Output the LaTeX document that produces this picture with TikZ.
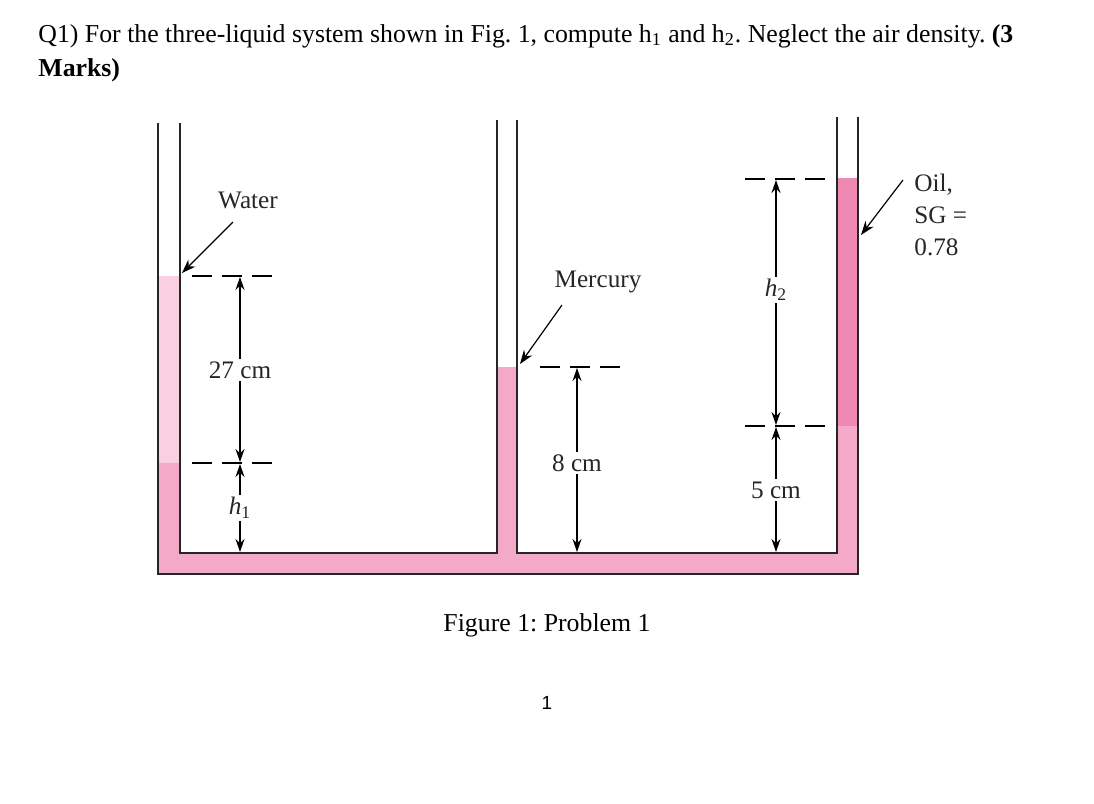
\documentclass[tikz,border=0pt]{standalone}
\usepackage{fontspec}
\setmainfont{Liberation Serif}
\setsansfont{Liberation Sans}
\usetikzlibrary{arrows.meta}
\begin{document}
\frenchspacing
\begin{tikzpicture}[x=0.5pt,y=-0.5pt,
  wall/.style={line width=1pt,black!85},
  dline/.style={dash pattern=on 10pt off 5pt,line width=0.7pt},
  dim/.style={line width=0.6pt,-{Stealth[length=6.5pt,width=4.5pt]}},
  lab/.style={font=\fontsize{12.6}{15}\selectfont,inner sep=1pt,text=black!85},
  ptr/.style={line width=0.6pt,-{Stealth[length=7pt,width=5pt]}}]
\useasboundingbox (0,0) rectangle (1094,804);
\definecolor{merc}{HTML}{F4A9C9}
\definecolor{wat}{HTML}{F9D0E1}
\definecolor{oil}{HTML}{F088B4}
\node[anchor=base west,font=\fontsize{12.9}{15}\selectfont,inner sep=0] (t1) at (38,42) {Q1) For the three-liquid system shown in Fig. 1, compute h\textsubscript{1} and h\textsubscript{2}. Neglect the air density. \textbf{(3}};
\node[anchor=base west,font=\fontsize{12.9}{15}\selectfont\bfseries,inner sep=0] (t2) at (38,76) {Marks)};
% fills
\fill[merc] (158,463) rectangle (180,574);
\fill[merc] (158,553) rectangle (858,574);
\fill[merc] (497,367) rectangle (517,553);
\fill[merc] (837,426) rectangle (858,553);
\fill[wat] (158,276) rectangle (180,463);
\fill[oil] (837,178) rectangle (858,426);
% walls
\draw[wall] (158,123) -- (158,574) -- (858,574) -- (858,117);
\draw[wall] (180,123) -- (180,553) -- (497,553) -- (497,120);
\draw[wall] (517,120) -- (517,553) -- (837,553) -- (837,117);
% water dims
\draw[dline] (192,276) -- (272,276);
\draw[dline] (192,463) -- (272,463);
\node[lab] (w27) at (240,370) {27 cm};
\draw[dim] (w27.north) -- (240,277);
\draw[dim] (w27.south) -- (240,462);
\node[lab] (h1) at (240,508) {\textit{h}\textsubscript{1}};
\draw[dim] (h1.north) -- (240,464);
\draw[dim] (h1.south) -- (240,552);
\node[lab] (water) at (248,200) {Water};
\coordinate (wpt) at (182,273);
\draw[ptr] (233,222) -- (wpt);
% mercury dims
\node[lab] (merclab) at (598,282) {Mercury};
\coordinate (mpt) at (520,364);
\draw[ptr] (562,305) -- (mpt);
\draw[dline] (540,367) -- (620,367);
\node[lab] (e8) at (577,463) {8 cm};
\draw[dim] (e8.north) -- (577,368);
\draw[dim] (e8.south) -- (577,552);
% oil dims
\draw[dline] (745,179) -- (825,179);
\draw[dline] (745,426) -- (825,426);
\node[lab] (h2) at (776,290) {\textit{h}\textsubscript{2}};
\draw[dim] (h2.north) -- (776,180);
\draw[dim] (h2.south) -- (776,425);
\node[lab] (f5) at (776,490) {5 cm};
\draw[dim] (f5.north) -- (776,427);
\draw[dim] (f5.south) -- (776,552);
\node[lab,anchor=west,align=left,font=\fontsize{12.6}{16}\selectfont] (oillab) at (912,215) {Oil,\\SG =\\0.78};
\coordinate (opt) at (861,235);
\draw[ptr] (903,180) -- (opt);
\node[font=\fontsize{12.9}{15}\selectfont,inner sep=0] (cap) at (547,625) {Figure 1: Problem 1};
\node[font=\sffamily\fontsize{9.5}{12}\selectfont,inner sep=0] (pg) at (547,703) {1};
\end{tikzpicture}
\end{document}
